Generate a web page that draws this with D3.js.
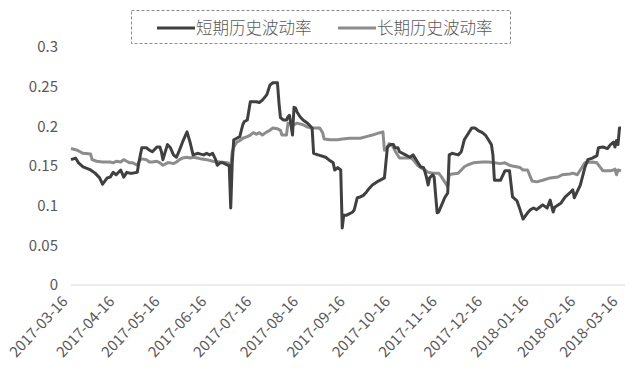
<!DOCTYPE html>
<html>
<head>
<meta charset="utf-8">
<script src="https://cdn.jsdelivr.net/npm/d3@7"></script>
<style>
  body { margin: 0; background: #fff; }
  text { font-family: "Noto Sans CJK SC", "Noto Sans", sans-serif; fill: #595959; }
</style>
</head>
<body>
<div id="chart"></div>
<script>
// series names
const seriesNames = ["短期历史波动率", "长期历史波动率"];

// short-term volatility
const shortDates = ["2017-03-16","2017-03-19","2017-03-21","2017-03-24","2017-03-29","2017-04-01","2017-04-04","2017-04-06","2017-04-09","2017-04-11","2017-04-13","2017-04-15","2017-04-18","2017-04-20","2017-04-22","2017-04-24","2017-04-26","2017-04-29","2017-04-30","2017-05-02","2017-05-05","2017-05-07","2017-05-09","2017-05-12","2017-05-14","2017-05-15","2017-05-16","2017-05-19","2017-05-21","2017-05-23","2017-05-25","2017-05-27","2017-05-29","2017-06-01","2017-06-03","2017-06-05","2017-06-08","2017-06-10","2017-06-12","2017-06-14","2017-06-16","2017-06-18","2017-06-20","2017-06-21","2017-06-23","2017-06-25","2017-06-28","2017-06-29","2017-06-30","2017-07-01","2017-07-02","2017-07-04","2017-07-06","2017-07-08","2017-07-09","2017-07-11","2017-07-13","2017-07-15","2017-07-17","2017-07-19","2017-07-21","2017-07-24","2017-07-26","2017-07-28","2017-07-31","2017-08-01","2017-08-02","2017-08-04","2017-08-06","2017-08-07","2017-08-08","2017-08-10","2017-08-11","2017-08-12","2017-08-13","2017-08-15","2017-08-17","2017-08-20","2017-08-23","2017-08-24","2017-08-27","2017-09-01","2017-09-03","2017-09-06","2017-09-07","2017-09-09","2017-09-11","2017-09-12","2017-09-13","2017-09-15","2017-09-19","2017-09-20","2017-09-22","2017-09-24","2017-09-26","2017-09-28","2017-09-30","2017-10-02","2017-10-06","2017-10-10","2017-10-12","2017-10-14","2017-10-16","2017-10-17","2017-10-19","2017-10-20","2017-10-24","2017-10-27","2017-10-29","2017-11-01","2017-11-03","2017-11-05","2017-11-06","2017-11-07","2017-11-08","2017-11-09","2017-11-11","2017-11-12","2017-11-13","2017-11-14","2017-11-15","2017-11-17","2017-11-19","2017-11-21","2017-11-22","2017-11-24","2017-11-26","2017-11-28","2017-11-30","2017-12-02","2017-12-04","2017-12-07","2017-12-09","2017-12-11","2017-12-14","2017-12-16","2017-12-18","2017-12-20","2017-12-21","2017-12-22","2017-12-26","2017-12-29","2018-01-01","2018-01-03","2018-01-06","2018-01-08","2018-01-10","2018-01-13","2018-01-15","2018-01-17","2018-01-19","2018-01-21","2018-01-23","2018-01-26","2018-01-28","2018-01-30","2018-01-31","2018-02-04","2018-02-07","2018-02-10","2018-02-12","2018-02-13","2018-02-17","2018-02-20","2018-02-22","2018-02-25","2018-02-28","2018-03-01","2018-03-04","2018-03-07","2018-03-09","2018-03-11","2018-03-12","2018-03-13","2018-03-14","2018-03-15","2018-03-16"];
const shortVals = [0.158,0.160,0.154,0.149,0.145,0.141,0.135,0.127,0.135,0.136,0.142,0.139,0.145,0.136,0.142,0.141,0.141,0.142,0.154,0.173,0.173,0.170,0.168,0.174,0.174,0.168,0.158,0.177,0.173,0.164,0.161,0.170,0.180,0.193,0.180,0.164,0.166,0.165,0.164,0.166,0.164,0.166,0.158,0.151,0.154,0.154,0.151,0.151,0.097,0.154,0.183,0.185,0.187,0.202,0.206,0.208,0.231,0.231,0.231,0.230,0.233,0.240,0.252,0.255,0.255,0.230,0.211,0.208,0.208,0.212,0.214,0.189,0.224,0.223,0.218,0.212,0.208,0.204,0.198,0.166,0.164,0.161,0.158,0.154,0.145,0.148,0.145,0.072,0.088,0.088,0.092,0.095,0.110,0.111,0.113,0.117,0.122,0.126,0.131,0.135,0.174,0.177,0.177,0.173,0.173,0.168,0.164,0.161,0.164,0.155,0.149,0.148,0.142,0.135,0.126,0.135,0.139,0.136,0.113,0.091,0.092,0.101,0.110,0.116,0.164,0.166,0.165,0.164,0.168,0.183,0.189,0.198,0.198,0.195,0.192,0.189,0.183,0.177,0.164,0.132,0.132,0.144,0.144,0.111,0.106,0.095,0.083,0.091,0.095,0.097,0.095,0.098,0.101,0.097,0.107,0.092,0.098,0.103,0.111,0.116,0.120,0.110,0.126,0.148,0.158,0.160,0.163,0.173,0.174,0.172,0.177,0.180,0.174,0.182,0.177,0.198,0.198];

// long-term volatility
const longDates = ["2017-03-16","2017-03-20","2017-03-22","2017-03-24","2017-03-29","2017-03-30","2017-04-02","2017-04-06","2017-04-11","2017-04-13","2017-04-15","2017-04-18","2017-04-20","2017-04-22","2017-04-24","2017-04-26","2017-04-29","2017-05-01","2017-05-02","2017-05-05","2017-05-07","2017-05-09","2017-05-12","2017-05-14","2017-05-16","2017-05-19","2017-05-21","2017-05-23","2017-05-25","2017-05-27","2017-05-29","2017-06-01","2017-06-03","2017-06-05","2017-06-08","2017-06-10","2017-06-14","2017-06-18","2017-06-23","2017-06-28","2017-06-30","2017-07-01","2017-07-02","2017-07-04","2017-07-06","2017-07-08","2017-07-11","2017-07-13","2017-07-15","2017-07-17","2017-07-19","2017-07-21","2017-07-24","2017-07-26","2017-07-28","2017-07-31","2017-08-02","2017-08-03","2017-08-06","2017-08-07","2017-08-11","2017-08-13","2017-08-17","2017-08-20","2017-08-22","2017-08-25","2017-08-28","2017-08-30","2017-08-31","2017-09-04","2017-09-09","2017-09-12","2017-09-17","2017-09-24","2017-09-28","2017-10-02","2017-10-07","2017-10-09","2017-10-10","2017-10-12","2017-10-13","2017-10-15","2017-10-16","2017-10-18","2017-10-20","2017-10-22","2017-10-26","2017-10-27","2017-10-29","2017-11-01","2017-11-03","2017-11-06","2017-11-08","2017-11-11","2017-11-15","2017-11-17","2017-11-19","2017-11-21","2017-11-22","2017-11-24","2017-11-28","2017-11-30","2017-12-02","2017-12-04","2017-12-08","2017-12-14","2017-12-18","2017-12-22","2017-12-26","2017-12-29","2018-01-01","2018-01-03","2018-01-08","2018-01-10","2018-01-13","2018-01-16","2018-01-19","2018-01-23","2018-01-28","2018-02-02","2018-02-05","2018-02-10","2018-02-12","2018-02-15","2018-02-17","2018-02-20","2018-02-25","2018-02-28","2018-03-02","2018-03-04","2018-03-09","2018-03-11","2018-03-12","2018-03-13","2018-03-14","2018-03-16"];
const longVals = [0.172,0.170,0.168,0.166,0.165,0.158,0.156,0.155,0.155,0.154,0.156,0.155,0.158,0.156,0.154,0.154,0.151,0.158,0.159,0.158,0.155,0.155,0.156,0.154,0.151,0.154,0.154,0.153,0.155,0.158,0.160,0.161,0.160,0.161,0.160,0.159,0.158,0.156,0.155,0.154,0.150,0.168,0.174,0.180,0.182,0.185,0.187,0.189,0.192,0.190,0.192,0.189,0.193,0.195,0.198,0.197,0.195,0.189,0.189,0.204,0.202,0.204,0.202,0.199,0.198,0.198,0.198,0.192,0.184,0.183,0.183,0.184,0.185,0.185,0.187,0.189,0.192,0.193,0.170,0.173,0.178,0.177,0.173,0.166,0.160,0.160,0.160,0.161,0.158,0.151,0.148,0.145,0.142,0.141,0.141,0.136,0.130,0.124,0.139,0.140,0.141,0.145,0.149,0.151,0.154,0.155,0.155,0.154,0.153,0.154,0.151,0.150,0.148,0.145,0.145,0.131,0.130,0.132,0.135,0.136,0.139,0.140,0.141,0.139,0.145,0.154,0.155,0.154,0.149,0.144,0.144,0.145,0.146,0.139,0.145,0.144];

// axis ticks
const yTicks = [0, 0.05, 0.1, 0.15, 0.2, 0.25, 0.3];
const xTickLabels = ["2017-03-16","2017-04-16","2017-05-16","2017-06-16","2017-07-16","2017-08-16","2017-09-16","2017-10-16","2017-11-16","2017-12-16","2018-01-16","2018-02-16","2018-03-16"];

const width = 640, height = 377;
const margin = {top: 47, right: 19, bottom: 92, left: 71};
const parse = d3.timeParse("%Y-%m-%d");

const svg = d3.select("#chart").append("svg")
    .attr("width", width)
    .attr("height", height);

const g = svg.append("g")
    .attr("transform", "translate(" + margin.left + "," + margin.top + ")");

const innerW = width - margin.left - margin.right;
const innerH = height - margin.top - margin.bottom;

const x = d3.scaleTime()
    .domain([parse("2017-03-16"), parse("2018-03-16")])
    .range([0, innerW]);

const y = d3.scaleLinear()
    .domain([0, 0.3])
    .range([innerH, 0]);

// baseline at zero
g.append("line")
    .attr("x1", 0).attr("x2", innerW + 4)
    .attr("y1", y(0)).attr("y2", y(0))
    .attr("stroke", "#d9d9d9")
    .attr("stroke-width", 1);

// y axis labels
const yAxis = g.append("g")
    .call(d3.axisLeft(y).tickValues(yTicks).tickSize(0).tickPadding(13).tickFormat(d => d === 0 ? "0" : String(d)));
yAxis.select(".domain").remove();
yAxis.selectAll("text")
    .style("font-size", "15px")
    .style("fill", "#595959");

// x axis labels, rotated
const xAxis = g.append("g")
    .attr("transform", "translate(0," + y(0) + ")")
    .call(d3.axisBottom(x).tickValues(xTickLabels.map(parse)).tickSize(0).tickFormat(d3.timeFormat("%Y-%m-%d")));
xAxis.select(".domain").remove();
xAxis.selectAll("text")
    .style("font-size", "15px")
    .style("fill", "#595959")
    .attr("text-anchor", "end")
    .attr("dy", "0")
    .attr("transform", "translate(-5,15) rotate(-47)");

const line = d3.line()
    .x(d => x(d.date))
    .y(d => y(d.value));

const longData = longDates.map((d, i) => ({date: parse(d), value: longVals[i]}));
const shortData = shortDates.map((d, i) => ({date: parse(d), value: shortVals[i]}));

g.append("path")
    .datum(longData)
    .attr("d", line)
    .attr("fill", "none")
    .attr("stroke", "#8c8c8c")
    .attr("stroke-width", 3)
    .attr("stroke-linejoin", "round");

g.append("path")
    .datum(shortData)
    .attr("d", line)
    .attr("fill", "none")
    .attr("stroke", "#404040")
    .attr("stroke-width", 3)
    .attr("stroke-linejoin", "round");

// legend
const legend = svg.append("g");
legend.append("rect")
    .attr("x", 131.5).attr("y", 10.5)
    .attr("width", 379).attr("height", 33)
    .attr("fill", "none")
    .attr("stroke", "#8c8c8c")
    .attr("stroke-dasharray", "3,2");

const legendColors = ["#404040", "#8c8c8c"];
const legendX = [157, 338];
seriesNames.forEach((name, i) => {
    legend.append("line")
        .attr("x1", legendX[i]).attr("x2", legendX[i] + 38)
        .attr("y1", 28).attr("y2", 28)
        .attr("stroke", legendColors[i])
        .attr("stroke-width", 3);
    legend.append("text")
        .attr("x", legendX[i] + 39)
        .attr("y", 34)
        .style("font-size", "16.5px")
        .style("font-weight", 300)
        .text(name);
});
</script>
</body>
</html>
